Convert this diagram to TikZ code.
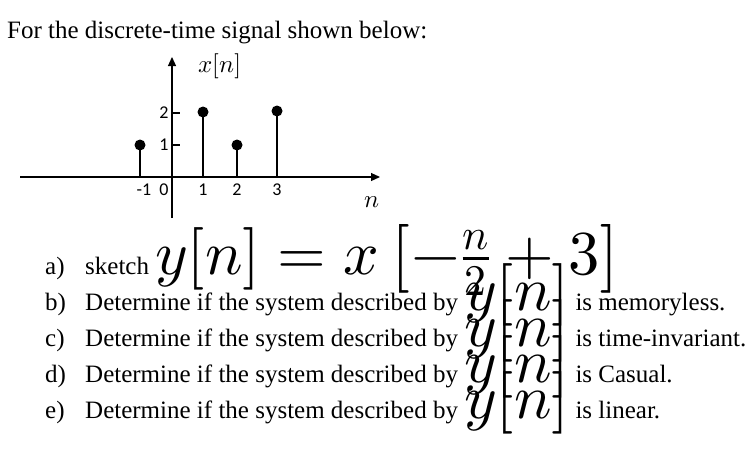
\documentclass[tikz,border=0pt]{standalone}
\usepackage{graphicx}
\usepackage{fontspec}
\usepackage{unicode-math}
\setmainfont{Liberation Serif}
\setmathfont{Latin Modern Math}
\newfontfamily\tickfont{Carlito}
\newcommand\mth[1]{\scalebox{2.5}{$#1$}}
\usetikzlibrary{arrows.meta}
\begin{document}
\begin{tikzpicture}[x=1pt,y=-1pt,
  ax/.style={line width=1.2pt,-{Triangle[length=9pt,width=8pt]}},
  stem/.style={line width=1.2pt},
  dotc/.style={circle,fill=black,inner sep=0pt,minimum size=11pt},
  tick/.style={font=\tickfont\fontsize{18}{20}\selectfont,inner sep=0pt},
  txt/.style={font=\fontsize{25}{30}\selectfont,anchor=base west,inner sep=0pt}]
\useasboundingbox (0,0) rectangle (745,464);
\node[txt] (title) at (7,38) {For the discrete-time signal shown below:};
% axes
\coordinate (xl) at (20,177); \coordinate (xr) at (380,177);
\coordinate (yb) at (172,218); \coordinate (yt) at (172,57);
\draw[ax] (xl) -- (xr);
\draw[ax] (yb) -- (yt);
\node (xlab) at (220,66) {\mth{x[n]}};
\node (nlab) at (372,202) {\mth{n}};
% ticks
\coordinate (t2) at (172,113); \coordinate (t2e) at (180,113);
\coordinate (t1) at (172,145); \coordinate (t1e) at (180,145);
\draw[stem] (t2) -- (t2e); \draw[stem] (t1) -- (t1e);
\node[tick] (l2) at (164,113) {2};
\node[tick] (l1) at (164,145) {1};
\node[tick] (lm1) at (144,190) {-1};
\node[tick] (l0) at (164,190) {0};
\node[tick] (lp1) at (203,190) {1};
\node[tick] (lp2) at (237,190) {2};
\node[tick] (lp3) at (277,190) {3};
% stems
\foreach \n/\x/\y in {a/140/145, b/203/112, c/237/145, d/277/111}{
  \coordinate (b\n) at (\x,177);
  \node[dotc] (d\n) at (\x,\y) {};
  \draw[stem] (b\n) -- (d\n.center);
}
% questions
\node[txt] (la) at (45,274) {a)};
\node[txt] (qa) at (85,274) {sketch \mth{y[n]=x\left[-\frac{n}{2}+3\right]}};
\node[txt] (lb) at (45,310) {b)};
\node[txt] (qb) at (85,310) {Determine if the system described by \mth{y[n]} is memoryless.};
\node[txt] (lc) at (45,346) {c)};
\node[txt] (qc) at (85,346) {Determine if the system described by \mth{y[n]} is time-invariant.};
\node[txt] (ld) at (45,382) {d)};
\node[txt] (qd) at (85,382) {Determine if the system described by \mth{y[n]} is Casual.};
\node[txt] (le) at (45,418) {e)};
\node[txt] (qe) at (85,418) {Determine if the system described by \mth{y[n]} is linear.};
\end{tikzpicture}
\end{document}
